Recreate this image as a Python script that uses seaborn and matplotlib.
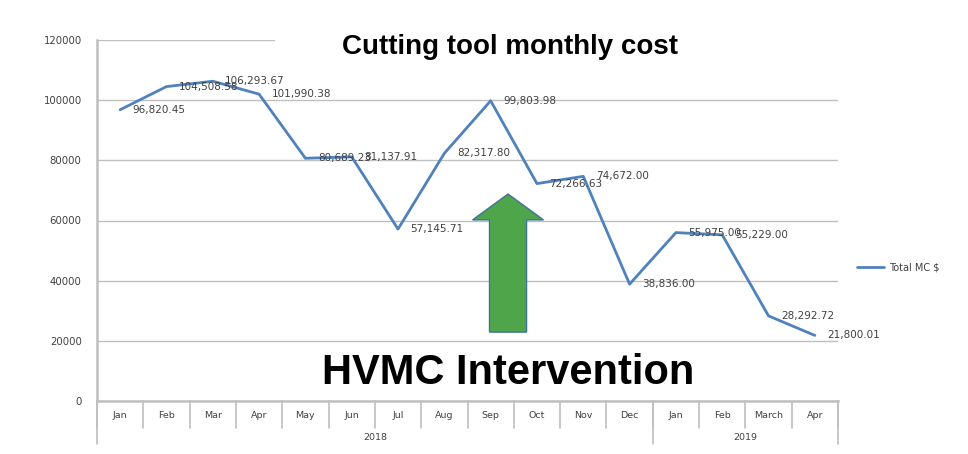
import matplotlib
matplotlib.use("Agg")
import matplotlib.pyplot as plt
import seaborn as sns
import pandas as pd
from matplotlib.patches import FancyArrow, Rectangle

months = ['Jan', 'Feb', 'Mar', 'Apr', 'May', 'Jun', 'Jul', 'Aug', 'Sep', 'Oct', 'Nov', 'Dec',
          'Jan', 'Feb', 'March', 'Apr']
years = ['2018', '2019']
months_per_year = [12, 4]
total_mc = [96820.45, 104508.58, 106293.67, 101990.38, 80689.23, 81137.91, 57145.71, 82317.80,
            99803.98, 72266.63, 74672.00, 38836.00, 55975.00, 55229.00, 28292.72, 21800.01]

df = pd.DataFrame({'idx': range(len(months)), 'cost': total_mc})

sns.set_style('white')
plt.rcParams['font.family'] = ['Liberation Sans', 'DejaVu Sans']

fig = plt.figure(figsize=(9.68, 4.54), dpi=100)
ax = fig.add_axes([97 / 968, 1 - 401 / 454, 741 / 968, 361 / 454])

grey = '#BFBFBF'
txt = '#404040'
small = 'DejaVu Sans'

sns.lineplot(data=df, x='idx', y='cost', ax=ax, color='#4F81BD', linewidth=2,
             label='Total MC $')

ax.set_xlim(-0.5, len(months) - 0.5)
ax.set_ylim(0, 120000)
ax.set_yticks(range(0, 120001, 20000))
ax.set_yticklabels([str(v) for v in range(0, 120001, 20000)], fontsize=7.3, color=txt,
                   family=small)
ax.tick_params(axis='y', length=5, color=grey, width=1, pad=6)
ax.yaxis.grid(True, color=grey, linewidth=1)
ax.set_axisbelow(True)

ax.set_xticks(range(len(months)))
ax.set_xticklabels(months, fontsize=6.8, color=txt, family=small)
ax.tick_params(axis='x', length=0, pad=7)
ax.set_xlabel('')
ax.set_ylabel('')

for s in ['top', 'right']:
    ax.spines[s].set_visible(False)
for s in ['left', 'bottom']:
    ax.spines[s].set_color(grey)
    ax.spines[s].set_linewidth(1.8)

# category separators for the two-level axis
tr = ax.get_xaxis_transform()
for k in range(len(months) + 1):
    ax.plot([k - 0.5, k - 0.5], [0, -0.075], transform=tr, color=grey, lw=1.2, clip_on=False)
start = 0
for yr, n in zip(years, months_per_year):
    ax.plot([start - 0.5, start - 0.5], [0, -0.118], transform=tr, color=grey, lw=1.2, clip_on=False)
    ax.text(start + (n - 1) / 2, -0.1, yr, transform=tr, ha='center', va='center',
            fontsize=6.8, color=txt, family=small)
    start += n
ax.plot([start - 0.5, start - 0.5], [0, -0.118], transform=tr, color=grey, lw=1.2, clip_on=False)

# data labels
for i, v in enumerate(total_mc):
    ax.annotate(f'{v:,.2f}', (i, v), xytext=(9, 0), textcoords='offset points',
                ha='left', va='center', fontsize=7.5, color=txt, family=small)

# title box covers the top gridline
ax.add_patch(Rectangle((0.24, 0.975), 0.76, 0.05, transform=ax.transAxes,
                       facecolor='white', edgecolor='none', zorder=2, clip_on=False))
fig.text(510 / 968, 1 - 47 / 454, 'Cutting tool monthly cost', ha='center', va='center',
         fontsize=20, fontweight='bold', color='black', zorder=5)

# intervention arrow
ax.add_patch(FancyArrow(8.375, 22900, 0, 45900, width=0.8, head_width=1.53, head_length=8600,
                        length_includes_head=True, facecolor='#4EA54A', edgecolor='#41719C',
                        linewidth=1, zorder=3))
fig.text(508 / 968, 1 - 373 / 454, 'HVMC Intervention', ha='center', va='center',
         fontsize=30, fontweight='bold', color='black')

leg = ax.legend(loc='center left', bbox_to_anchor=(1.02, 0.371), frameon=False,
                prop={'family': small, 'size': 7}, handlelength=2.8, handletextpad=0.5,
                borderaxespad=0)
for t in leg.get_texts():
    t.set_color(txt)

fig.savefig('out.png', dpi=100)
